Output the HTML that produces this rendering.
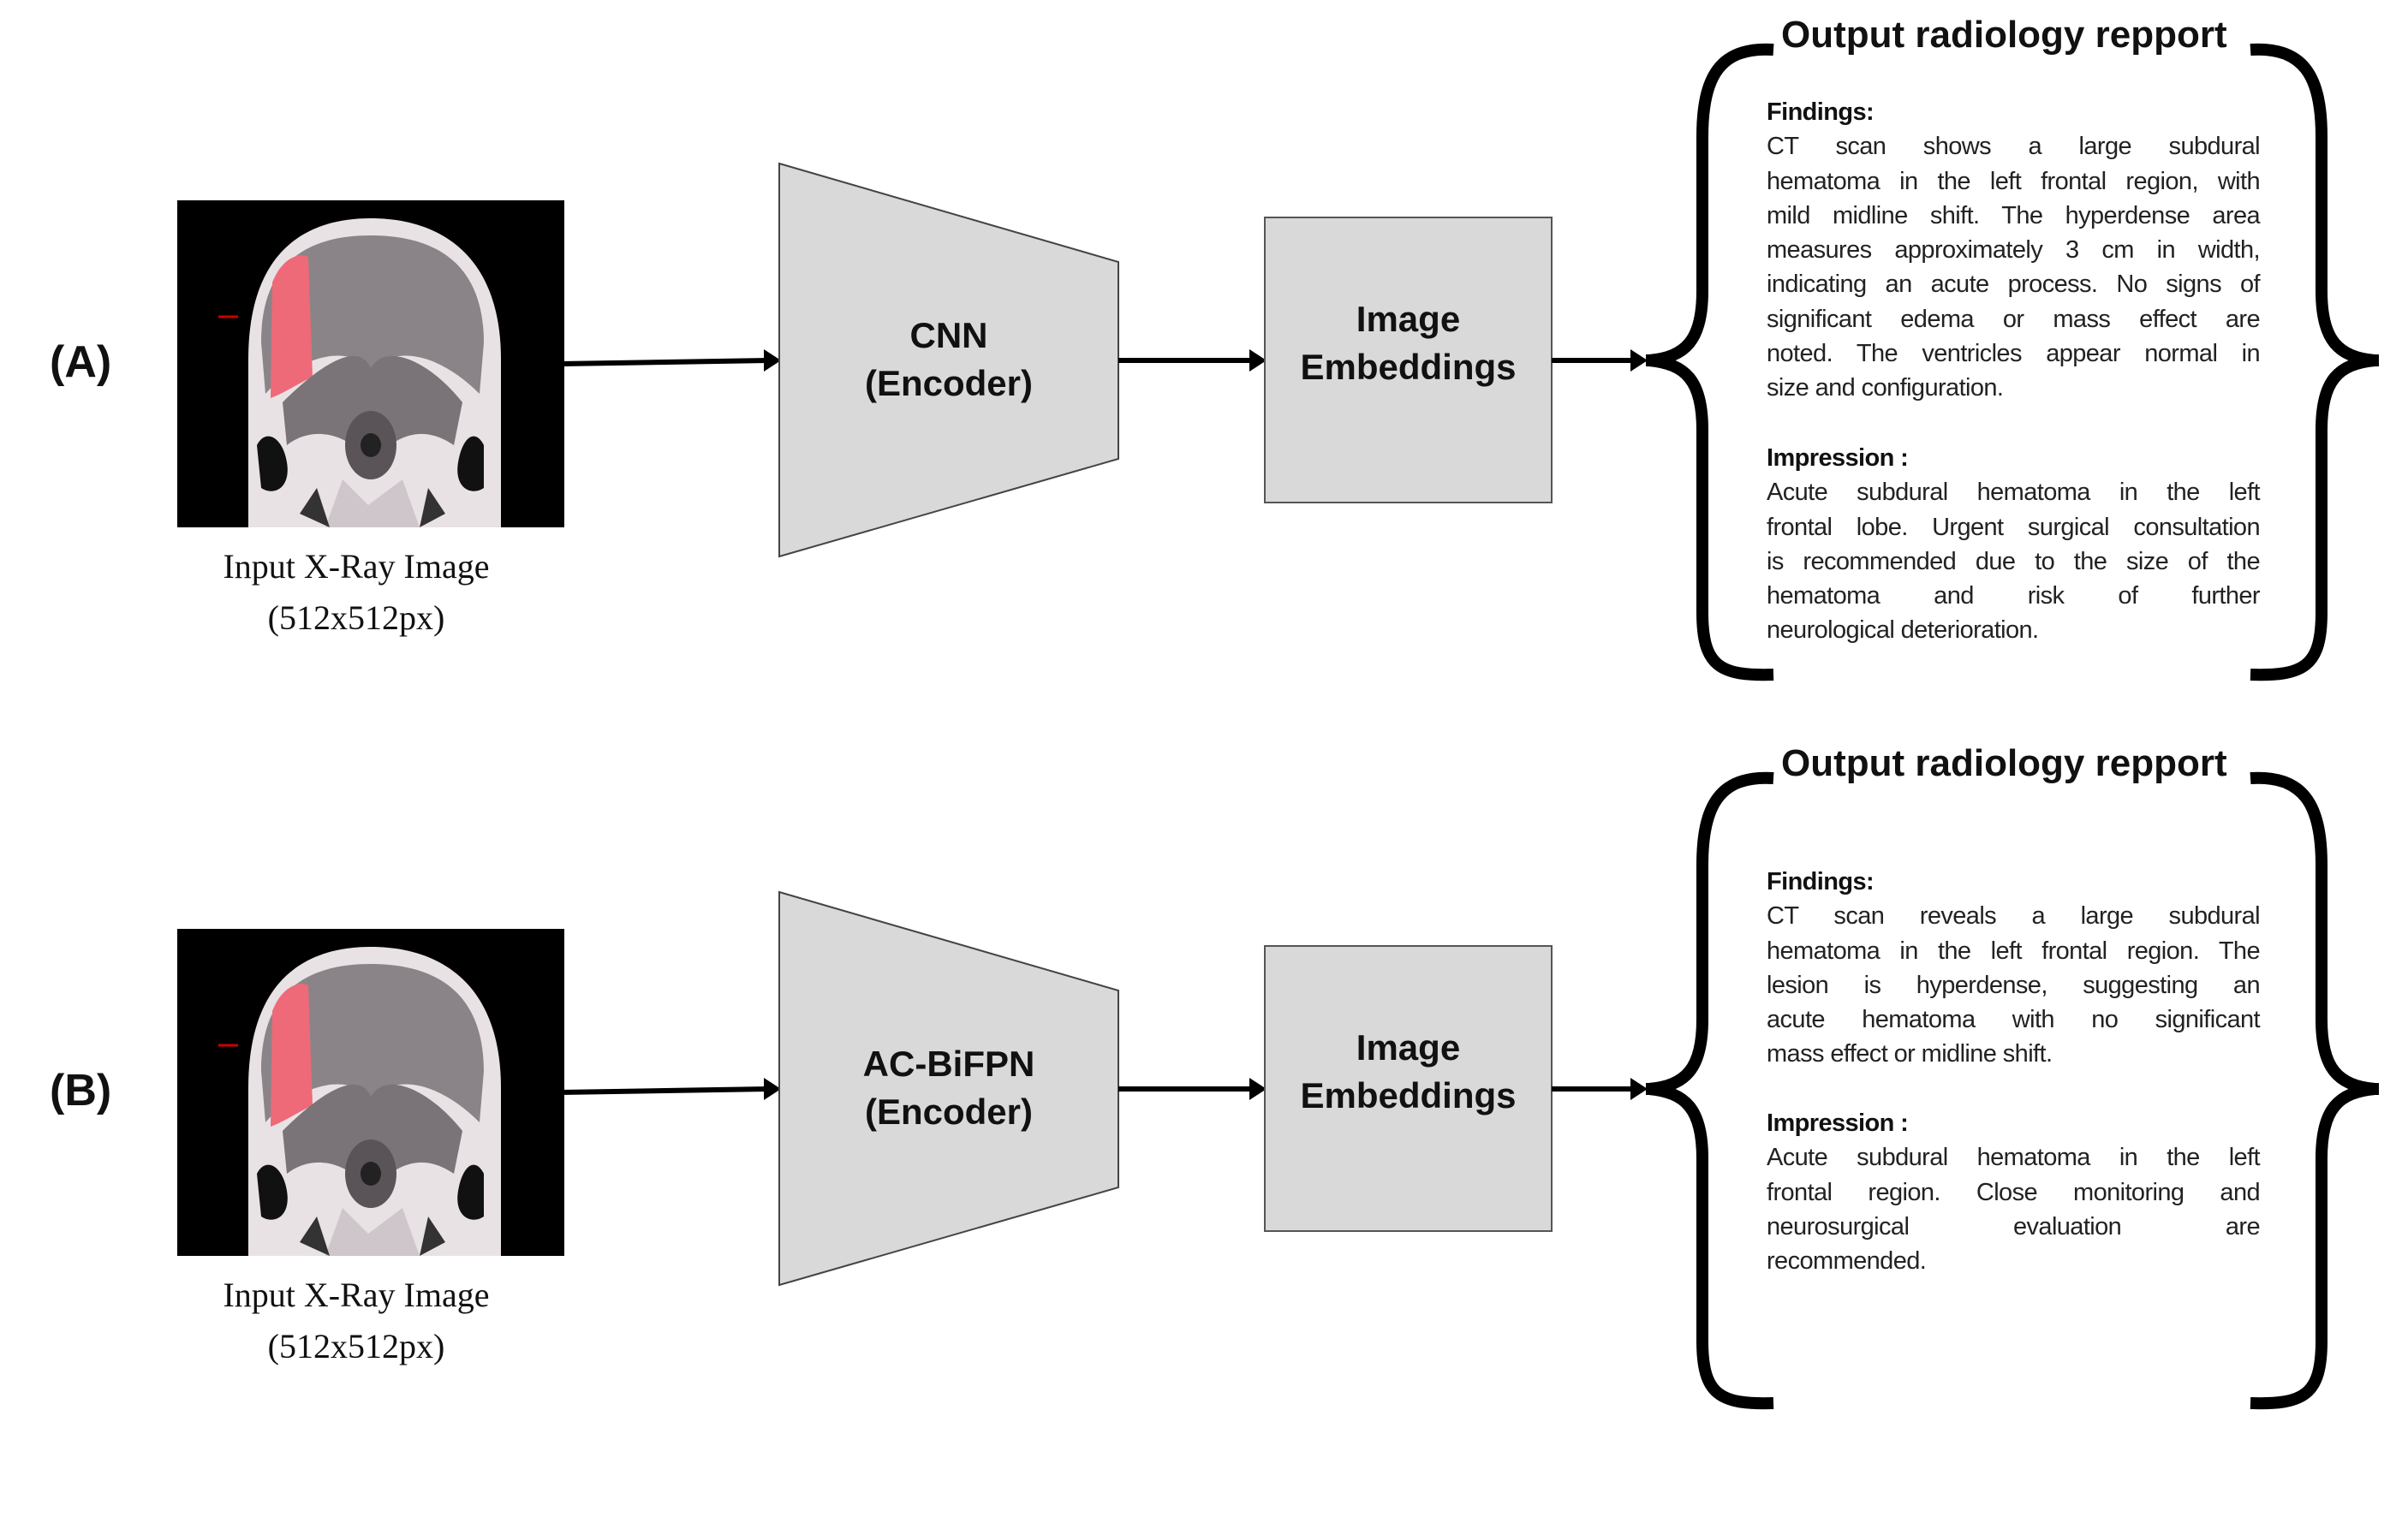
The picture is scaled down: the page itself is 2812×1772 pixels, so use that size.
<!DOCTYPE html>
<html><head><meta charset="utf-8"><style>
html,body{margin:0;padding:0;background:#fff;}
body{width:2812px;height:1772px;position:relative;overflow:hidden;font-family:"Liberation Sans",sans-serif;}
.abs{position:absolute;}
.lbl{font-weight:bold;font-size:52px;color:#111;}
.cap{font-family:"Liberation Serif",serif;font-size:40px;color:#111;text-align:center;width:500px;}
.blk{font-weight:bold;font-size:42px;color:#111;text-align:center;line-height:56px;}
.title{font-weight:bold;font-size:44px;color:#111;white-space:nowrap;}
.rep{width:576px;font-size:29px;line-height:40.3px;color:#222;letter-spacing:-0.6px;}
.rep div{white-space:nowrap;text-align:justify;text-align-last:justify;}
.rep div.l{text-align-last:left;}
.rep b{display:block;color:#111;}
</style></head><body>
<svg class="abs" style="left:0;top:0" width="2812" height="1772" viewBox="0 0 2812 1772">
<defs>
<g id="brain">
<rect x="207" y="234" width="452" height="382" fill="#000"/>
<path d="M290,616 L290,420 C290,300 350,255 433,255 C516,255 585,300 585,420 L585,616 Z" fill="#e8e2e4"/>
<path d="M305,400 C305,310 355,275 433,275 C511,275 565,310 565,400 L560,460 C520,420 470,400 433,430 C400,400 345,420 310,460 Z" fill="#8a8488"/>
<path d="M318,330 C330,300 350,295 360,300 L365,440 C345,450 330,460 316,465 Z" fill="#ee6a78"/>
<path d="M330,470 C380,420 420,400 433,430 C450,400 500,420 540,470 L530,520 C500,500 470,500 433,540 C400,500 360,500 335,520 Z" fill="#7a7478"/>
<ellipse cx="433" cy="520" rx="30" ry="40" fill="#5a5458"/>
<ellipse cx="433" cy="520" rx="12" ry="14" fill="#222"/>
<path d="M300,520 C310,500 330,510 335,540 C340,570 320,580 305,570 Z" fill="#111"/>
<path d="M565,520 C555,500 540,510 535,540 C530,570 550,580 565,570 Z" fill="#111"/>
<path d="M380,616 L400,560 L430,590 L470,560 L490,616 Z" fill="#cfc6cc"/>
<path d="M350,600 L370,570 L385,616 Z" fill="#333"/>
<path d="M520,600 L500,570 L490,616 Z" fill="#333"/>
<line x1="255" y1="370" x2="278" y2="370" stroke="#c00" stroke-width="3"/>
</g>
<g id="rest">
<line x1="659" y1="425" x2="898" y2="421" stroke="#000" stroke-width="6"/>
<polygon points="916,421 896,408 896,434" fill="#000"/>
<polygon points="914,191 1310,306 1310,536 914,650" fill="#d9d9d9" stroke="#444" stroke-width="2"/>
<line x1="1310" y1="421" x2="1466" y2="421" stroke="#000" stroke-width="6"/>
<polygon points="1483,421 1463,408 1463,434" fill="#000"/>
<rect x="1481" y="254" width="335" height="333" fill="#d9d9d9" stroke="#555" stroke-width="2"/>
<line x1="1816" y1="421" x2="1910" y2="421" stroke="#000" stroke-width="6"/>
<polygon points="1928,421 1908,408 1908,434" fill="#000"/>
<path d="M2075,58 C2012,54 1992,90 1992,160 L1992,340 C1992,398 1972,417 1930,421 C1972,425 1992,444 1992,502 L1992,715 C1992,778 2012,790 2075,788" fill="none" stroke="#000" stroke-width="14"/>
<rect x="1926" y="414" width="22" height="14" fill="#000"/>
<path d="M2632,58 C2695,54 2715,90 2715,160 L2715,340 C2715,398 2735,417 2777,421 C2735,425 2715,444 2715,502 L2715,715 C2715,778 2695,790 2632,788" fill="none" stroke="#000" stroke-width="14"/>
<rect x="2760" y="414" width="22" height="14" fill="#000"/>
</g>
</defs>
<use href="#brain"/>
<use href="#brain" transform="translate(0,851)"/>
<use href="#rest" transform="translate(-4,0)"/>
<use href="#rest" transform="translate(-4,851)"/>
</svg>

<div class="abs lbl" style="left:58px;top:393px">(A)</div>
<div class="abs lbl" style="left:58px;top:1244px">(B)</div>
<div class="abs cap" style="left:166px;top:638px">Input X-Ray Image</div>
<div class="abs cap" style="left:166px;top:698px">(512x512px)</div>
<div class="abs cap" style="left:166px;top:1489px">Input X-Ray Image</div>
<div class="abs cap" style="left:166px;top:1549px">(512x512px)</div>

<div class="abs blk" style="left:910px;width:396px;top:364px">CNN<br>(Encoder)</div>
<div class="abs blk" style="left:910px;width:396px;top:1215px">AC-BiFPN<br>(Encoder)</div>
<div class="abs blk" style="left:1477px;width:335px;top:345px">Image<br>Embeddings</div>
<div class="abs blk" style="left:1477px;width:335px;top:1196px">Image<br>Embeddings</div>

<div class="abs title" style="left:2080px;top:16px">Output radiology repport</div>
<div class="abs title" style="left:2080px;top:867px">Output radiology repport</div>

<div class="abs rep" style="left:2063px;top:111px">
<b>Findings:</b>
<div>CT scan shows a large subdural</div>
<div>hematoma in the left frontal region, with</div>
<div>mild midline shift. The hyperdense area</div>
<div>measures approximately 3 cm in width,</div>
<div>indicating an acute process. No signs of</div>
<div>significant edema or mass effect are</div>
<div>noted. The ventricles appear normal in</div>
<div class="l">size and configuration.</div>
</div>
<div class="abs rep" style="left:2063px;top:515px">
<b>Impression :</b>
<div>Acute subdural hematoma in the left</div>
<div>frontal lobe. Urgent surgical consultation</div>
<div>is recommended due to the size of the</div>
<div>hematoma and risk of further</div>
<div class="l">neurological deterioration.</div>
</div>

<div class="abs rep" style="left:2063px;top:1010px">
<b>Findings:</b>
<div>CT scan reveals a large subdural</div>
<div>hematoma in the left frontal region. The</div>
<div>lesion is hyperdense, suggesting an</div>
<div>acute hematoma with no significant</div>
<div class="l">mass effect or midline shift.</div>
</div>
<div class="abs rep" style="left:2063px;top:1292px">
<b>Impression :</b>
<div>Acute subdural hematoma in the left</div>
<div>frontal region. Close monitoring and</div>
<div>neurosurgical evaluation are</div>
<div class="l">recommended.</div>
</div>
</body></html>
